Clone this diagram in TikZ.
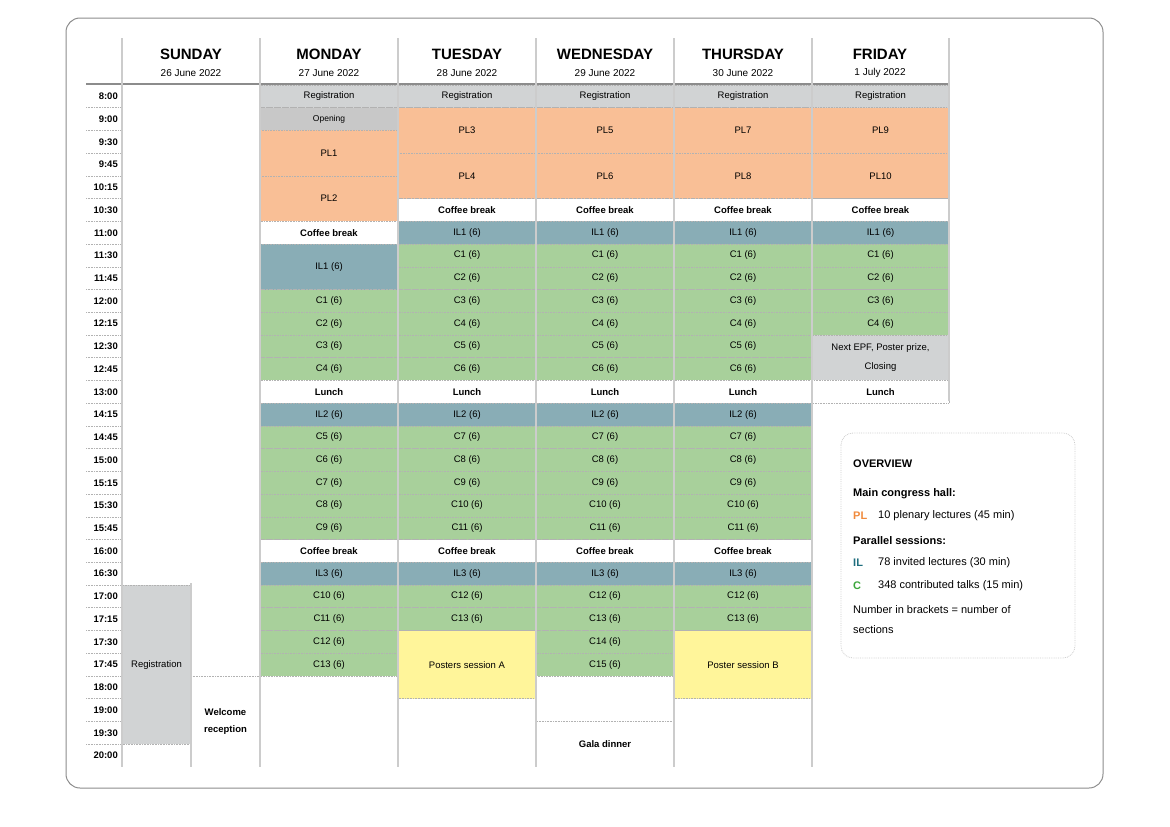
\documentclass[tikz,border=0pt]{standalone}
\usepackage{fontspec}
\setmainfont{Liberation Sans}
\begin{document}
\begin{tikzpicture}[x=1pt,y=-1pt,
  cellt/.style={font=\fontsize{9.5}{11}\selectfont, align=center, inner sep=0pt},
  bk/.style={font=\bfseries\fontsize{9.5}{11}\selectfont, align=center, inner sep=0pt},
  tlabel/.style={font=\bfseries\fontsize{9.5}{11}\selectfont, anchor=east, inner sep=0pt},
  sep/.style={draw=black!30, densely dotted, line width=0.6pt},
  vline/.style={draw=black!20, line width=1.2pt},
  ov/.style={font=\fontsize{11}{13}\selectfont, anchor=west, inner sep=0pt},
  ovb/.style={ov, font=\bfseries\fontsize{11}{13}\selectfont}]
\definecolor{cgray}{HTML}{D1D3D4}
\definecolor{copen}{HTML}{C8C8C8}
\definecolor{corange}{HTML}{F9BF96}
\definecolor{cblue}{HTML}{89ADB6}
\definecolor{cgreen}{HTML}{A8D09B}
\definecolor{cyellow}{HTML}{FFF59A}
\definecolor{tpl}{HTML}{F08A3C}
\definecolor{til}{HTML}{1F6E7E}
\definecolor{tc}{HTML}{3AA53A}
\useasboundingbox (0,0) rectangle (1170,827);
\draw[black!45, line width=1pt, rounded corners=14pt] (66,18) rectangle (1103,788);
% cell macro: name, xleft, width, row0, row1, fill, style, text
\newcommand\cellx[8]{%
  \path[fill=#6, sep] (#2,{85+22.73*#4}) rectangle ({#2+#3},{85+22.73*(#5+1)});
  \node[#7] (#1) at ({#2+#3/2},{85+22.73*(#4+#5+1)/2}) {#8};}
% times
\foreach \t [count=\i from 0] in {8:00,9:00,9:30,9:45,10:15,10:30,11:00,11:30,11:45,12:00,12:15,12:30,12:45,13:00,14:15,14:45,15:00,15:15,15:30,15:45,16:00,16:30,17:00,17:15,17:30,17:45,18:00,19:00,19:30,20:00}{
  \node[tlabel] (t\i) at (118,{85+22.73*(\i+0.5)}) {\t};
  \ifnum\i<29 \draw[sep] (86,{85+22.73*(\i+1)}) -- (122,{85+22.73*(\i+1)});\fi
}
% headers
\foreach \d/\dt/\x [count=\k] in {SUNDAY/26 June 2022/191,MONDAY/27 June 2022/329,TUESDAY/28 June 2022/467,WEDNESDAY/29 June 2022/605,THURSDAY/30 June 2022/743,FRIDAY/1 July 2022/880}{
  \node[font=\bfseries\fontsize{15}{17}\selectfont, inner sep=0pt] (h\k) at (\x,54) {\d};
  \node[font=\fontsize{10}{12}\selectfont, inner sep=0pt] (d\k) at (\x,73) {\dt};
}
% Monday
\def\W{138}
\cellx{m0}{260}{\W}{0}{0}{cgray}{cellt}{Registration}
\cellx{m1}{260}{\W}{1}{1}{copen}{cellt}{\fontsize{8.5}{10}\selectfont Opening}
\cellx{m2}{260}{\W}{2}{3}{corange}{cellt}{PL1}
\cellx{m3}{260}{\W}{4}{5}{corange}{cellt}{PL2}
\cellx{m4}{260}{\W}{6}{6}{white}{bk}{Coffee break}
\cellx{m5}{260}{\W}{7}{8}{cblue}{cellt}{IL1 (6)}
\cellx{m6}{260}{\W}{9}{9}{cgreen}{cellt}{C1 (6)}
\cellx{m7}{260}{\W}{10}{10}{cgreen}{cellt}{C2 (6)}
\cellx{m8}{260}{\W}{11}{11}{cgreen}{cellt}{C3 (6)}
\cellx{m9}{260}{\W}{12}{12}{cgreen}{cellt}{C4 (6)}
\cellx{m10}{260}{\W}{13}{13}{white}{bk}{Lunch}
\cellx{m11}{260}{\W}{14}{14}{cblue}{cellt}{IL2 (6)}
\cellx{m12}{260}{\W}{15}{15}{cgreen}{cellt}{C5 (6)}
\cellx{m13}{260}{\W}{16}{16}{cgreen}{cellt}{C6 (6)}
\cellx{m14}{260}{\W}{17}{17}{cgreen}{cellt}{C7 (6)}
\cellx{m15}{260}{\W}{18}{18}{cgreen}{cellt}{C8 (6)}
\cellx{m16}{260}{\W}{19}{19}{cgreen}{cellt}{C9 (6)}
\cellx{m17}{260}{\W}{20}{20}{white}{bk}{Coffee break}
\cellx{m18}{260}{\W}{21}{21}{cblue}{cellt}{IL3 (6)}
\cellx{m19}{260}{\W}{22}{22}{cgreen}{cellt}{C10 (6)}
\cellx{m20}{260}{\W}{23}{23}{cgreen}{cellt}{C11 (6)}
\cellx{m21}{260}{\W}{24}{24}{cgreen}{cellt}{C12 (6)}
\cellx{m22}{260}{\W}{25}{25}{cgreen}{cellt}{C13 (6)}
% Tue, Wed, Thu common
\foreach \x/\p/\q/\c in {398/t/PL3/PL4,536/w/PL5/PL6,674/h/PL7/PL8}{
\cellx{\p0}{\x}{\W}{0}{0}{cgray}{cellt}{Registration}
\cellx{\p1}{\x}{\W}{1}{2}{corange}{cellt}{\q}
\cellx{\p2}{\x}{\W}{3}{4}{corange}{cellt}{\c}
\cellx{\p3}{\x}{\W}{5}{5}{white}{bk}{Coffee break}
\cellx{\p4}{\x}{\W}{6}{6}{cblue}{cellt}{IL1 (6)}
\cellx{\p5}{\x}{\W}{7}{7}{cgreen}{cellt}{C1 (6)}
\cellx{\p6}{\x}{\W}{8}{8}{cgreen}{cellt}{C2 (6)}
\cellx{\p7}{\x}{\W}{9}{9}{cgreen}{cellt}{C3 (6)}
\cellx{\p8}{\x}{\W}{10}{10}{cgreen}{cellt}{C4 (6)}
\cellx{\p9}{\x}{\W}{11}{11}{cgreen}{cellt}{C5 (6)}
\cellx{\p10}{\x}{\W}{12}{12}{cgreen}{cellt}{C6 (6)}
\cellx{\p11}{\x}{\W}{13}{13}{white}{bk}{Lunch}
\cellx{\p12}{\x}{\W}{14}{14}{cblue}{cellt}{IL2 (6)}
\cellx{\p13}{\x}{\W}{15}{15}{cgreen}{cellt}{C7 (6)}
\cellx{\p14}{\x}{\W}{16}{16}{cgreen}{cellt}{C8 (6)}
\cellx{\p15}{\x}{\W}{17}{17}{cgreen}{cellt}{C9 (6)}
\cellx{\p16}{\x}{\W}{18}{18}{cgreen}{cellt}{C10 (6)}
\cellx{\p17}{\x}{\W}{19}{19}{cgreen}{cellt}{C11 (6)}
\cellx{\p18}{\x}{\W}{20}{20}{white}{bk}{Coffee break}
\cellx{\p19}{\x}{\W}{21}{21}{cblue}{cellt}{IL3 (6)}
\cellx{\p20}{\x}{\W}{22}{22}{cgreen}{cellt}{C12 (6)}
\cellx{\p21}{\x}{\W}{23}{23}{cgreen}{cellt}{C13 (6)}
}
\cellx{ta}{398}{\W}{24}{26}{cyellow}{cellt}{Posters session A}
\cellx{w22}{536}{\W}{24}{24}{cgreen}{cellt}{C14 (6)}
\cellx{w23}{536}{\W}{25}{25}{cgreen}{cellt}{C15 (6)}
\cellx{w24}{536}{\W}{26}{27}{white}{cellt}{}
\node[bk] (gala) at (605,{85+22.73*29}) {Gala dinner};
\cellx{hb}{674}{\W}{24}{26}{cyellow}{cellt}{Poster session B}
% Friday
\def\V{137}
\cellx{f0}{812}{\V}{0}{0}{cgray}{cellt}{Registration}
\cellx{f1}{812}{\V}{1}{2}{corange}{cellt}{PL9}
\cellx{f2}{812}{\V}{3}{4}{corange}{cellt}{PL10}
\cellx{f3}{812}{\V}{5}{5}{white}{bk}{Coffee break}
\cellx{f4}{812}{\V}{6}{6}{cblue}{cellt}{IL1 (6)}
\cellx{f5}{812}{\V}{7}{7}{cgreen}{cellt}{C1 (6)}
\cellx{f6}{812}{\V}{8}{8}{cgreen}{cellt}{C2 (6)}
\cellx{f7}{812}{\V}{9}{9}{cgreen}{cellt}{C3 (6)}
\cellx{f8}{812}{\V}{10}{10}{cgreen}{cellt}{C4 (6)}
\cellx{f9}{812}{\V}{11}{12}{cgray}{cellt, font=\fontsize{9.5}{19}\selectfont}{Next EPF, Poster prize,\\Closing}
\cellx{f10}{812}{\V}{13}{13}{white}{bk}{Lunch}
% Sunday
\cellx{sr}{122}{69}{22}{28}{cgray}{cellt}{Registration}
\draw[sep] (191,{85+22.73*26}) -- (260,{85+22.73*26});
\node[bk, font=\bfseries\fontsize{9.5}{17}\selectfont] (wr) at (225.5,{85+22.73*28}) {Welcome\\reception};
% lines
\draw[black!45, line width=1.2pt] (86,84) -- (949,84);
\foreach \x in {122,260,398,536,674,812}{\draw[vline] (\x,38) -- (\x,767);}
\draw[vline] (949,38) -- (949,401);
\draw[vline] (191,583) -- (191,767);
% overview
\draw[black!20, densely dotted, line width=0.8pt, rounded corners=12pt] (841,433) rectangle (1075,658);
\node[ovb] (o1) at (853,464) {OVERVIEW};
\node[ovb] (o2) at (853,494) {Main congress hall:};
\node[ovb, text=tpl] (o3) at (853,516) {PL};
\node[ov] (o4) at (878,516) {10 plenary lectures (45 min)};
\node[ovb] (o5) at (853,541) {Parallel sessions:};
\node[ovb, text=til] (o6) at (853,563) {IL};
\node[ov] (o7) at (878,563) {78 invited lectures (30 min)};
\node[ovb, text=tc] (o8) at (853,586) {C};
\node[ov] (o9) at (878,586) {348 contributed talks (15 min)};
\node[ov] (o10) at (853,610) {Number in brackets = number of};
\node[ov] (o11) at (853,630) {sections};
\end{tikzpicture}
\end{document}
